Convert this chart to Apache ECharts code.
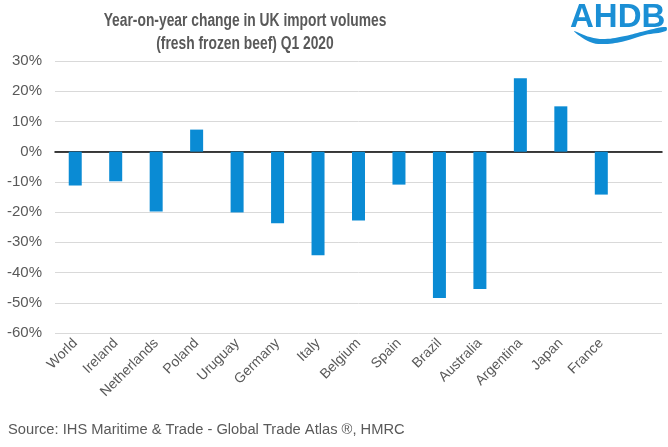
<!DOCTYPE html>
<html>
<head>
<meta charset="utf-8">
<script src="https://cdn.jsdelivr.net/npm/echarts@6/dist/echarts.min.js"></script>
<style>
  html, body { margin: 0; padding: 0; background: #fff; }
  #chart { width: 668px; height: 447px; }
</style>
</head>
<body>
<div id="chart"></div>
<script>
// categories (last one empty, the plot keeps a blank slot after France)
var countries = ['World', 'Ireland', 'Netherlands', 'Poland', 'Uruguay', 'Germany', 'Italy',
  'Belgium', 'Spain', 'Brazil', 'Australia', 'Argentina', 'Japan', 'France', ''];
// year-on-year change, %
var yoyChange = [-11.2, -9.8, -19.8, 7.3, -20.1, -23.7, -34.3,
  -22.8, -10.9, -48.4, -45.4, 24.3, 15.0, -14.2, null];

var textGrey = '#595959';
var barBlue = '#0A8BD4';
var logoBlue = '#1B8FD5';

var chart = echarts.init(document.getElementById('chart'));
var option = {
  animation: false,
  textStyle: { fontFamily: 'Liberation Sans, Arial, sans-serif' },
  grid: { left: 55, right: 6, top: 61, bottom: 114 },
  xAxis: {
    type: 'category',
    data: countries,
    axisTick: { show: false },
    axisLine: { onZero: true, lineStyle: { color: '#000', width: 1.5 } },
    axisLabel: {
      interval: 0,
      rotate: 45,
      margin: 8,
      color: textGrey,
      fontSize: 14
    }
  },
  yAxis: {
    type: 'value',
    min: -60,
    max: 30,
    interval: 10,
    axisLine: { show: false },
    axisTick: { show: false },
    axisLabel: {
      formatter: '{value}%',
      color: textGrey,
      fontSize: 15,
      margin: 13
    },
    splitLine: { lineStyle: { color: '#D9D9D9', width: 1 } }
  },
  series: [{
    type: 'bar',
    data: yoyChange,
    barWidth: 13,
    itemStyle: { color: barBlue }
  }],
  graphic: [
    {
      // title, squeezed horizontally like the narrow original font
      type: 'text',
      x: 245,
      y: 10,
      scaleX: 0.79,
      style: {
        text: 'Year-on-year change in UK import volumes\n(fresh frozen beef) Q1 2020',
        fill: textGrey,
        font: 'bold 17.5px Liberation Sans, Arial, sans-serif',
        lineHeight: 23,
        align: 'center'
      }
    },
    {
      type: 'text',
      left: 8,
      top: 422,
      style: {
        text: 'Source: IHS Maritime & Trade - Global Trade Atlas \u00AE, HMRC',
        fill: textGrey,
        font: '14.7px Liberation Sans, Arial, sans-serif'
      }
    },
    {
      type: 'text',
      left: 570,
      top: 1,
      style: {
        text: 'AHDB',
        fill: logoBlue,
        font: 'bold 33px Liberation Sans, Arial, sans-serif'
      }
    },
    {
      // logo wave
      type: 'polygon',
      shape: {
        smooth: 0.4,
        points: [[574, 31], [590, 37], [605, 39], [625, 36], [645, 31], [666, 27],
          [666, 31], [645, 35], [625, 41], [605, 44], [590, 42]]
      },
      style: { fill: logoBlue }
    }
  ]
};
chart.setOption(option);
</script>
</body>
</html>
